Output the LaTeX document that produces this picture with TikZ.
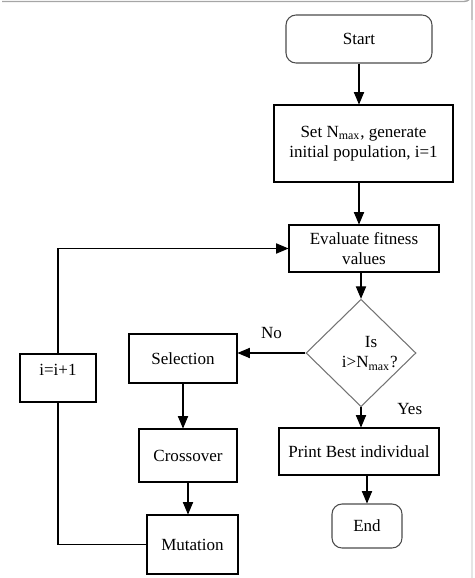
\documentclass[tikz,border=0pt]{standalone}
\usepackage{fontspec}
\setmainfont{Liberation Serif}
\usepackage{tikz}
\usetikzlibrary{shapes.geometric}
\usetikzlibrary{arrows}

\begin{document}
\begin{tikzpicture}[x=0.02cm, y=-0.02cm,
        box/.style = {draw, line width=0.6pt, align=center, inner sep=2pt},
        term/.style = {box, draw=black!70, rounded corners=0.2cm},
        test/.style = {draw=black!55, line width=0.6pt, diamond, align=center, inner sep=0pt},
        arr/.style = {-triangle 45, line width=0.6pt},
        font=\fontsize{9.7}{11.6}\selectfont]
        \useasboundingbox (0, 0) rectangle (474, 578);

        % frame of the page
        \draw[black!35, line width=0.8pt] (2, 1.5) -- (464, 1.5) arc (90:0:8) -- (472, 20);
        \draw[black!10, line width=0.6pt] (472, 20) -- (472, 578);

        \node[term, minimum width=2.92cm, minimum height=0.96cm] (start) at (359, 39) {Start};
        \node[box, minimum width=3.58cm, minimum height=1.54cm] (setn) at (363.5, 143.5)
            {Set N\textsubscript{max}, generate\\initial population, i=1};
        \node[box, minimum width=3.0cm, minimum height=0.94cm] (eval) at (364, 248.5)
            {Evaluate fitness\\values};
        \node[test, minimum width=2.2cm, minimum height=2.12cm] (dec) at (361, 353)
            {\hspace*{0.4cm}Is\\\hspace*{0.35cm}i>N\textsubscript{max}?};
        \node[box, minimum width=2.16cm, minimum height=0.98cm] (sel) at (183, 358.5) {Selection};
        \node[box, minimum width=1.52cm, minimum height=0.96cm, text depth=0.32cm] (inc) at (58, 378) {i=i+1};
        \node[box, minimum width=1.96cm, minimum height=1.06cm] (cross) at (188, 455.5) {Crossover};
        \node[box, minimum width=1.82cm, minimum height=1.18cm] (mut) at (192.5, 544.5) {Mutation};
        \node[box, minimum width=3.2cm, minimum height=0.94cm] (pr) at (359, 451.5)
            {Print Best individual};
        \node[term, minimum width=1.4cm, minimum height=0.88cm] (fin) at (367, 526) {End};

        % main line
        \draw[arr] (start.south) -- (start.south |- setn.north);
        \draw[arr] (setn.south -| start) -- (eval.north -| start);
        \draw[arr] (eval.south -| dec) -- (dec.north);
        \draw[arr] (dec.west) -- (dec.west -| sel.east)
            node[midway, above=0.15cm] {No};
        \draw[arr] (dec.south) -- (pr.north -| dec)
            node[pos=0.1, right=0.6cm] {Yes};
        \draw[arr] (pr.south -| fin) -- (fin.north);

        % loop
        \draw[arr] (sel.south) -- (sel.south |- cross.north);
        \draw[arr] (cross.south) -- (cross.south |- mut.north);
        \draw[line width=0.6pt] (mut.west) -| (inc.south);
        \draw[arr] (inc.north) |- (eval.west);
\end{tikzpicture}
\end{document}
